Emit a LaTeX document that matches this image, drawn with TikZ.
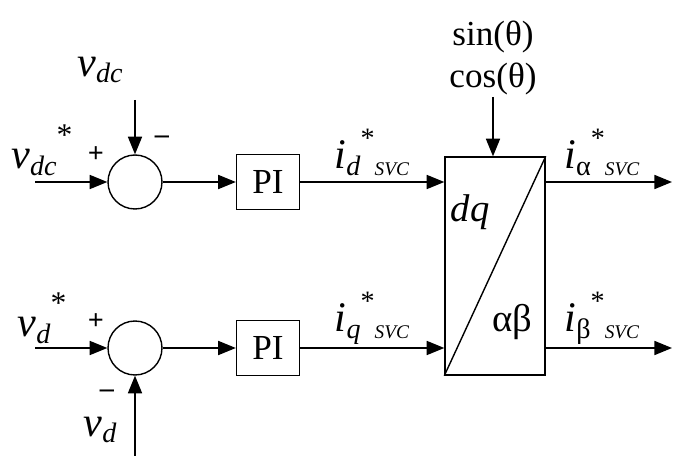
\documentclass[tikz,border=0pt]{standalone}
\usepackage{fontspec}
\setmainfont{Liberation Serif}
\usetikzlibrary{arrows.meta}
\newcommand{\vsub}[2]{\textit{#1}\raisebox{-0.35ex}{\fontsize{16}{16}\selectfont\textit{#2}}}
\newcommand{\isvc}[1]{\textit{i}\raisebox{-0.35ex}{\fontsize{16}{16}\selectfont #1}\raisebox{1.1ex}{\fontsize{16}{16}\selectfont *}\raisebox{-0.35ex}{\fontsize{11}{11}\selectfont\textit{SVC}}}
\begin{document}
\begin{tikzpicture}[x=0.02cm,y=-0.02cm, thick, >={Triangle[length=10pt,width=8pt]},
    sum/.style={draw, circle, minimum size=1.08cm, inner sep=0pt},
    blk/.style={draw, minimum width=1.26cm, minimum height=1.1cm, font=\fontsize{20}{22}\selectfont},
    lbl/.style={font=\fontsize{24}{26}\selectfont},
    sgn/.style={font=\fontsize{16}{16}\selectfont\bfseries}]
        \useasboundingbox (0,0) rectangle (684,456);

        % Summing junctions
        \node[sum] (S1) at (135,182) {};
        \node[sum] (S2) at (135,348) {};

        % PI controllers
        \node[blk] (PI1) at (268,182) {PI};
        \node[blk] (PI2) at (268,348) {PI};

        % dq / alpha-beta transform
        \node[draw, minimum width=2cm, minimum height=4.36cm] (T) at (495,266) {};
        \draw (T.south west) -- (T.north east);
        \node[lbl, font=\fontsize{22}{24}\selectfont\itshape] at (470,212) {dq};
        \node[lbl, font=\fontsize{22}{24}\selectfont] at (512,322) {αβ};

        % Free ends
        \coordinate (In1) at (35,182);
        \coordinate (In2) at (35,348);
        \coordinate (Fb1) at (135,100);
        \coordinate (Fb2) at (135,456);
        \coordinate (Ang) at (493,97);
        \coordinate (Out1) at (672,182);
        \coordinate (Out2) at (672,348);

        % Connections
        \draw[->] (In1) -- (S1);
        \draw[->] (In2) -- (S2);
        \draw[->] (Fb1) -- (S1);
        \draw[->] (Fb2) -- (S2);
        \draw[->] (S1) -- (PI1);
        \draw[->] (S2) -- (PI2);
        \draw[->] (PI1) -- (T.west |- PI1);
        \draw[->] (PI2) -- (T.west |- PI2);
        \draw[->] (Ang) -- (T.north -| Ang);
        \draw[->] (T.east |- Out1) -- (Out1);
        \draw[->] (T.east |- Out2) -- (Out2);

        % Labels
        \node[lbl] at (42,150) {\vsub{v}{dc}\raisebox{1.2ex}{\fontsize{18}{18}\selectfont *}};
        \node[lbl] at (100,70) {\vsub{v}{dc}};
        \node[sgn] at (96,155) {+};
        \node[sgn] at (162,140) {\textendash};
        \node[lbl] at (42,318) {\vsub{v}{d}\raisebox{1.2ex}{\fontsize{18}{18}\selectfont *}};
        \node[lbl] at (100,430) {\vsub{v}{d}};
        \node[sgn] at (96,322) {+};
        \node[sgn] at (107,394) {\textendash};
        \node[lbl] at (372,152) {\isvc{\textit{d}}};
        \node[lbl] at (372,318) {\isvc{\textit{q}}};
        \node[lbl] at (602,152) {\isvc{α}};
        \node[lbl] at (602,318) {\isvc{β}};
        \node[font=\fontsize{20}{24}\selectfont, align=center] at (493,58) {sin(θ)\\cos(θ)};
    \end{tikzpicture}
\end{document}
